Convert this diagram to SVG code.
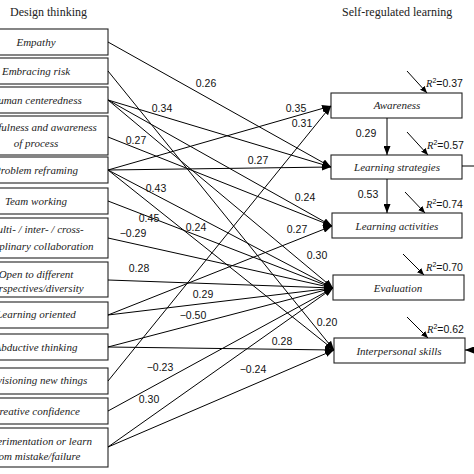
<svg xmlns="http://www.w3.org/2000/svg" width="474" height="474" viewBox="0 0 474 474">
<defs>
<marker id="ah" markerWidth="9" markerHeight="7" refX="9" refY="3.5" orient="auto" markerUnits="userSpaceOnUse">
<path d="M0,0 L9,3.5 L0,7 Z" fill="#000"/>
</marker>
<marker id="ahs" markerWidth="7" markerHeight="6" refX="7" refY="3" orient="auto" markerUnits="userSpaceOnUse">
<path d="M0,0 L7,3 L0,6 Z" fill="#000"/>
</marker>
</defs>
<style>
.box{fill:#fff;stroke:#222;stroke-width:1.1}
.nt{font-family:"Liberation Serif",serif;font-style:italic;font-size:11px;fill:#222;text-anchor:middle}
.title{font-family:"Liberation Serif",serif;font-size:12px;fill:#222}
.lbl{font-family:"Liberation Sans",Arial,sans-serif;font-size:10.5px;fill:#111;text-anchor:middle}
.c line{stroke:#000;stroke-width:1;marker-end:url(#ah)}
.r2 line{stroke:#000;stroke-width:1;marker-end:url(#ahs)}
.r2t{font-family:"Liberation Sans",Arial,sans-serif;font-size:10.5px;fill:#111}
</style>
<rect width="474" height="474" fill="#fff"/>
<text class="title" x="10" y="16">Design thinking</text>
<text class="title" x="342" y="16">Self-regulated learning</text>

<g id="empathy"><rect class="box" x="-40" y="29" width="148" height="26"/><text class="nt" x="36" y="46">Empathy</text></g>
<g id="embracing-risk"><rect class="box" x="-40" y="58" width="148" height="26"/><text class="nt" x="36" y="75">Embracing risk</text></g>
<g id="human-centeredness"><rect class="box" x="-40" y="87" width="148" height="26"/><text class="nt" x="36" y="104">Human centeredness</text></g>
<g id="mindfulness"><rect class="box" x="-40" y="116" width="148" height="39"/><text class="nt" x="36" y="131">Mindfulness and awareness</text><text class="nt" x="36" y="147">of process</text></g>
<g id="problem-reframing"><rect class="box" x="-40" y="157" width="148" height="26"/><text class="nt" x="36" y="174">Problem reframing</text></g>
<g id="team-working"><rect class="box" x="-40" y="188" width="148" height="26"/><text class="nt" x="36" y="205">Team working</text></g>
<g id="multi"><rect class="box" x="-40" y="218" width="148" height="40"/><text class="nt" x="36" y="233">Multi- / inter- / cross-</text><text class="nt" x="36" y="250">disciplinary collaboration</text></g>
<g id="open"><rect class="box" x="-40" y="262" width="148" height="35"/><text class="nt" x="36" y="278">Open to different</text><text class="nt" x="36" y="292">perspectives/diversity</text></g>
<g id="learning-oriented"><rect class="box" x="-40" y="302" width="148" height="26"/><text class="nt" x="36" y="318">Learning oriented</text></g>
<g id="abductive"><rect class="box" x="-40" y="334" width="148" height="26"/><text class="nt" x="36" y="351">Abductive thinking</text></g>
<g id="envisioning"><rect class="box" x="-40" y="368" width="148" height="26"/><text class="nt" x="36" y="384">Envisioning new things</text></g>
<g id="creative"><rect class="box" x="-40" y="398" width="148" height="26"/><text class="nt" x="36" y="415">Creative confidence</text></g>
<g id="experimentation"><rect class="box" x="-40" y="428" width="148" height="39"/><text class="nt" x="36" y="445">Experimentation or learn</text><text class="nt" x="36" y="460">from mistake/failure</text></g>

<g id="awareness"><rect class="box" x="331" y="93" width="131" height="25"/><text class="nt" x="397" y="109">Awareness</text></g>
<g id="learning-strategies"><rect class="box" x="331" y="155" width="131" height="24"/><text class="nt" x="397" y="171">Learning strategies</text></g>
<g id="learning-activities"><rect class="box" x="332" y="213" width="130" height="25"/><text class="nt" x="397" y="230">Learning activities</text></g>
<g id="evaluation"><rect class="box" x="333" y="275" width="131" height="25"/><text class="nt" x="398" y="292">Evaluation</text></g>
<g id="interpersonal"><rect class="box" x="334" y="338" width="131" height="25"/><text class="nt" x="399" y="355">Interpersonal skills</text></g>

<g id="connectors" class="c">
<line x1="108" y1="42" x2="331" y2="167"/>
<line x1="108" y1="71" x2="334" y2="350"/>
<line x1="108" y1="100" x2="331" y2="167"/>
<line x1="108" y1="100" x2="332" y2="226"/>
<line x1="108" y1="100" x2="333" y2="288"/>
<line x1="108" y1="137" x2="332" y2="226"/>
<line x1="108" y1="170" x2="331" y2="106"/>
<line x1="108" y1="170" x2="331" y2="167"/>
<line x1="108" y1="170" x2="333" y2="288"/>
<line x1="108" y1="170" x2="334" y2="350"/>
<line x1="108" y1="201" x2="333" y2="288"/>
<line x1="108" y1="238" x2="333" y2="288"/>
<line x1="108" y1="280" x2="333" y2="288"/>
<line x1="108" y1="315" x2="332" y2="226"/>
<line x1="108" y1="315" x2="333" y2="288"/>
<line x1="108" y1="347" x2="333" y2="288"/>
<line x1="108" y1="347" x2="334" y2="350"/>
<line x1="108" y1="381" x2="331" y2="106"/>
<line x1="108" y1="411" x2="333" y2="288"/>
<line x1="108" y1="447" x2="333" y2="288"/>
<line x1="108" y1="447" x2="334" y2="350"/>
<line x1="387" y1="118" x2="387" y2="155"/>
<line x1="387" y1="179" x2="387" y2="213"/>
<line x1="474" y1="350" x2="465" y2="350"/>
<path d="M462,166 H474" stroke="#000" stroke-width="1" fill="none"/>
</g>

<g id="r2" class="r2">
<line x1="407" y1="71" x2="427" y2="93"/>
<line x1="407" y1="132" x2="428" y2="155"/>
<line x1="405" y1="192" x2="425" y2="213"/>
<line x1="403" y1="254" x2="424" y2="275"/>
<line x1="407" y1="317" x2="428" y2="338"/>
</g>
<text class="r2t" x="426" y="87"><tspan font-family="Liberation Serif" font-style="italic">R</tspan><tspan font-size="7" dy="-4">2</tspan><tspan dy="4">=0.37</tspan></text>
<text class="r2t" x="427" y="149"><tspan font-family="Liberation Serif" font-style="italic">R</tspan><tspan font-size="7" dy="-4">2</tspan><tspan dy="4">=0.57</tspan></text>
<text class="r2t" x="426" y="208"><tspan font-family="Liberation Serif" font-style="italic">R</tspan><tspan font-size="7" dy="-4">2</tspan><tspan dy="4">=0.74</tspan></text>
<text class="r2t" x="426" y="271"><tspan font-family="Liberation Serif" font-style="italic">R</tspan><tspan font-size="7" dy="-4">2</tspan><tspan dy="4">=0.70</tspan></text>
<text class="r2t" x="427" y="333"><tspan font-family="Liberation Serif" font-style="italic">R</tspan><tspan font-size="7" dy="-4">2</tspan><tspan dy="4">=0.62</tspan></text>

<g id="labels">
<text class="lbl" x="206" y="87">0.26</text>
<text class="lbl" x="162" y="112">0.34</text>
<text class="lbl" x="296" y="112">0.35</text>
<text class="lbl" x="302" y="127">0.31</text>
<text class="lbl" x="136" y="144">0.27</text>
<text class="lbl" x="258" y="164">0.27</text>
<text class="lbl" x="156" y="192">0.43</text>
<text class="lbl" x="305" y="201">0.24</text>
<text class="lbl" x="149" y="222">0.45</text>
<text class="lbl" x="196" y="231">0.24</text>
<text class="lbl" x="297" y="233">0.27</text>
<text class="lbl" x="133" y="237">−0.29</text>
<text class="lbl" x="317" y="259">0.30</text>
<text class="lbl" x="139" y="272">0.28</text>
<text class="lbl" x="203" y="298">0.29</text>
<text class="lbl" x="193" y="319">−0.50</text>
<text class="lbl" x="327" y="326">0.20</text>
<text class="lbl" x="282" y="345">0.28</text>
<text class="lbl" x="160" y="371">−0.23</text>
<text class="lbl" x="253" y="373">−0.24</text>
<text class="lbl" x="149" y="403">0.30</text>
<text class="lbl" x="366" y="137">0.29</text>
<text class="lbl" x="368" y="198">0.53</text>
</g>
</svg>
